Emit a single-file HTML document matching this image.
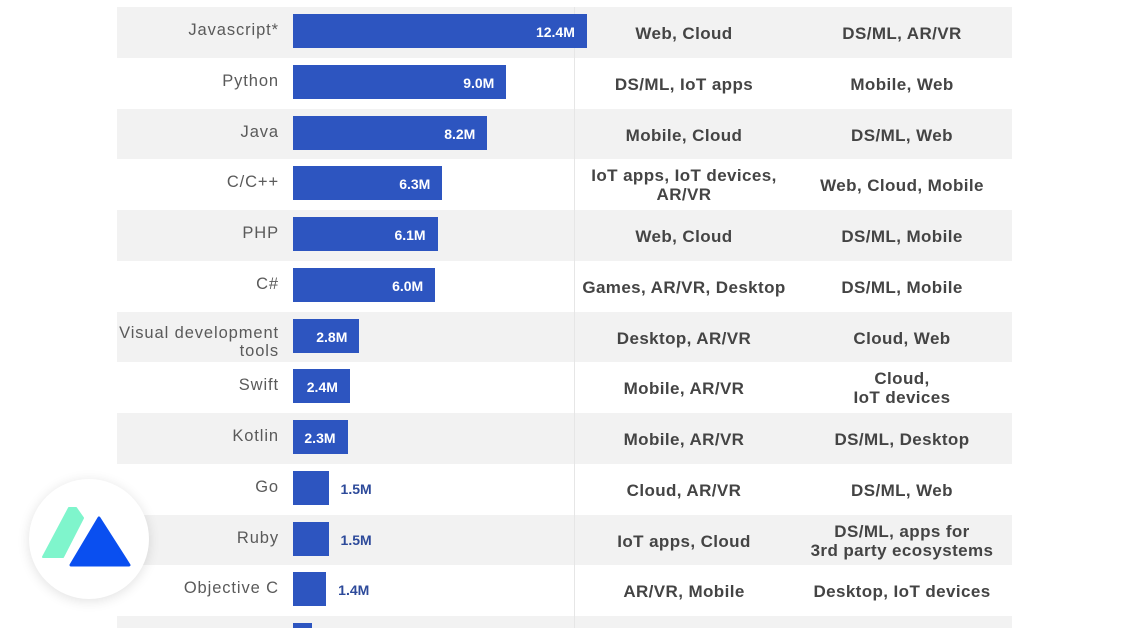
<!DOCTYPE html>
<html><head><meta charset="utf-8"><style>
html,body{margin:0;width:1125px;height:628px;overflow:hidden;background:#fff;font-family:"Liberation Sans",sans-serif;position:relative}
#chart{position:absolute;left:0;top:0;width:1125px;height:628px;overflow:hidden}
.row{position:absolute;left:117px;width:895px;height:51px}
.lbl{position:absolute;right:846px;text-align:right;color:#5a5a5a;font-size:16.5px;line-height:18px;letter-spacing:0.9px;white-space:nowrap}
.bar{position:absolute;left:293px;height:34px;background:#2d55c0}
.val{position:absolute;font-size:14px;font-weight:bold;color:#fff}
.c{position:absolute;width:220px;text-align:center;color:#444;font-size:17px;font-weight:bold;line-height:19px;letter-spacing:0.4px;white-space:nowrap}
.div{position:absolute;left:574px;width:1px;background:#e6e6e6}
</style></head><body>
<div id="chart"></div>
<div style="position:absolute;left:29px;top:479px;width:120px;height:120px;border-radius:50%;background:#fff;box-shadow:0 2px 12px rgba(0,0,0,0.12)">
<svg width="120" height="120"><polygon points="14,78 40,29 47,29 54,39 34,78" fill="#7ff5cc" stroke="#7ff5cc" stroke-linejoin="round" stroke-width="2"/><polygon points="42,86 70,39 100,86" fill="#0a4ff0" stroke="#0a4ff0" stroke-linejoin="round" stroke-width="3"/></svg></div>
<script>
const languages=["Javascript*","Python","Java","C/C++","PHP","C#","Visual development tools","Swift","Kotlin","Go","Ruby","Objective C",""];
const developers=[12.4,9.0,8.2,6.3,6.1,6.0,2.8,2.4,2.3,1.5,1.5,1.4,0.8];
const primaryUse=["Web, Cloud","DS/ML, IoT apps","Mobile, Cloud","IoT apps, IoT devices, AR/VR","Web, Cloud","Games, AR/VR, Desktop","Desktop, AR/VR","Mobile, AR/VR","Mobile, AR/VR","Cloud, AR/VR","IoT apps, Cloud","AR/VR, Mobile",""];
const growthUse=["DS/ML, AR/VR","Mobile, Web","DS/ML, Web","Web, Cloud, Mobile","DS/ML, Mobile","DS/ML, Mobile","Cloud, Web","Cloud,<br>IoT devices","DS/ML, Desktop","DS/ML, Web","DS/ML, apps for<br>3rd party ecosystems","Desktop, IoT devices",""];
const chart=document.getElementById('chart');
const pitch=50.75,top0=7,scale=23.7;
const x=v=>v*scale;
const y=i=>top0+i*pitch;
for(let i=0;i<languages.length;i++){
 const rh=Math.min(51,628-y(i));
 const r=document.createElement('div');r.className='row';
 
 
 r.style.top=y(i)+'px';r.style.height=rh+'px';r.style.background=i%2==0?'#f2f2f2':'#fff';chart.appendChild(r);
 const d=document.createElement('div');d.className='div';
 
 
 d.style.top=y(i)+'px';d.style.height=rh+'px';chart.appendChild(d);
 const l=document.createElement('div');l.className='lbl';
 
 
 const two=languages[i].length>18;
 l.innerHTML=two?'Visual development<br>tools':languages[i];
 l.style.top=(y(i)+(two?12:14))+'px';chart.appendChild(l);
 const b=document.createElement('div');b.className='bar';
 
 
 const w=x(developers[i]);b.style.top=(y(i)+7)+'px';b.style.width=w+'px';
 b.style.height=Math.max(0,Math.min(34,628-y(i)-7))+'px';chart.appendChild(b);
 if(languages[i]){
 const v=document.createElement('div');v.className='val';
 
 
 v.textContent=developers[i].toFixed(1)+'M';
 v.style.top=(y(i)+17)+'px';
 if(w>45){v.style.right=(1125-293-w+12)+'px';}else{v.style.left=(293+w+12)+'px';v.style.color='#2d4a9a';}
 chart.appendChild(v);}
 [[primaryUse,574,'primary-use'],[growthUse,792,'growth-use']].forEach(([arr,cx,nm])=>{
  if(!arr[i])return;
  const c=document.createElement('div');c.className='c';
  
  
  c.innerHTML=arr[i].replace('IoT devices, AR/VR','IoT devices,<br>AR/VR');
  const lines=c.innerHTML.includes('<br>')?2:1;
  c.style.left=cx+'px';c.style.top=(y(i)+(lines==2?7:17))+'px';
  chart.appendChild(c);});
}
</script>
</body></html>
